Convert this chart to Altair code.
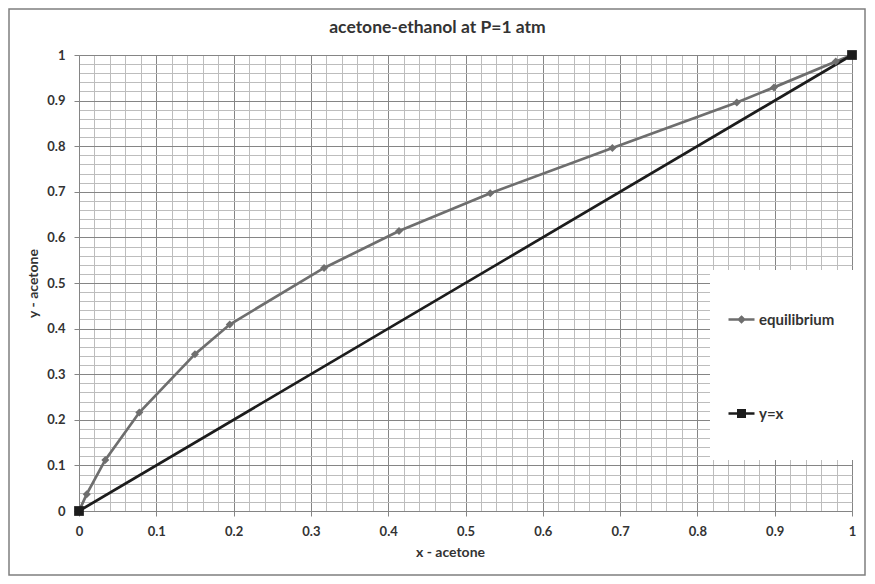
import altair as alt
import pandas as pd

TITLE = "acetone-ethanol at P=1 atm"
X_TITLE = "x - acetone"
Y_TITLE = "y - acetone"

series_names = ["equilibrium", "y=x"]
series_colors = ["#6e6e6e", "#1c1c1c"]

eq_x = [0.0, 0.010, 0.034, 0.078, 0.150, 0.195, 0.317, 0.414, 0.532, 0.690, 0.851, 0.899, 0.979, 1.0]
eq_y = [0.0, 0.037, 0.112, 0.216, 0.344, 0.409, 0.533, 0.614, 0.697, 0.796, 0.896, 0.929, 0.986, 1.0]

diag_x = [0.0, 1.0]
diag_y = [0.0, 1.0]

grid_values = [0.0, 0.02, 0.04, 0.06, 0.08, 0.1, 0.12, 0.14, 0.16, 0.18,
               0.2, 0.22, 0.24, 0.26, 0.28, 0.3, 0.32, 0.34, 0.36, 0.38,
               0.4, 0.42, 0.44, 0.46, 0.48, 0.5, 0.52, 0.54, 0.56, 0.58,
               0.6, 0.62, 0.64, 0.66, 0.68, 0.7, 0.72, 0.74, 0.76, 0.78,
               0.8, 0.82, 0.84, 0.86, 0.88, 0.9, 0.92, 0.94, 0.96, 0.98, 1.0]

rows = []
for i, (a, b) in enumerate(zip(eq_x, eq_y)):
    rows.append({"x": a, "y": b, "series": series_names[0], "order": i})
for i, (a, b) in enumerate(zip(diag_x, diag_y)):
    rows.append({"x": a, "y": b, "series": series_names[1], "order": i})
df = pd.DataFrame(rows)

FONT = "Lato"
TEXT_COLOR = "#333333"
MAJOR = "abs(datum.value * 10 - round(datum.value * 10)) < 0.001"


def make_axis(title, **kw):
    return alt.Axis(
        values=grid_values,
        title=title,
        labelExpr=f"({MAJOR}) ? format(datum.value, '~g') : ''",
        labelOverlap=False,
        labelFlush=False,
        labelFont=FONT,
        labelFontSize=13,
        labelFontWeight="bold",
        labelColor=TEXT_COLOR,
        labelPadding=9,
        tickSize=5,
        tickWidth=1,
        tickColor={"condition": {"test": MAJOR, "value": "#858585"}, "value": "rgba(0,0,0,0)"},
        gridColor={"condition": {"test": MAJOR, "value": "#858585"}, "value": "#bdbdbd"},
        gridWidth=1,
        gridOpacity=1,
        domainColor="#858585",
        domainWidth=1,
        titleFont=FONT,
        titleFontSize=14,
        titleFontWeight="bold",
        titleColor=TEXT_COLOR,
        titleBaseline="middle",
        **kw,
    )


x_axis = make_axis(X_TITLE, titleX=371, titleY=41)
y_axis = make_axis(Y_TITLE, titleX=-46, titleY=228, titleAngle=270)

DIAMOND_LINE = "M-1,0H1M0,-0.2L0.2,0L0,0.2L-0.2,0Z"
SQUARE_LINE = "M-1,0H1M-0.25,-0.25H0.25V0.25H-0.25Z"

legend_common = dict(
    orient="none",
    legendX=648,
    title=None,
    padding=0,
    labelFont=FONT,
    labelFontSize=15,
    labelFontWeight="bold",
    labelColor=TEXT_COLOR,
    labelOffset=3,
    symbolSize=676,
    symbolStrokeWidth=2.5,
    symbolOpacity=1,
)

legend_eq = alt.Legend(values=[series_names[0]], legendY=250, symbolType=DIAMOND_LINE,
                       symbolFillColor=series_colors[0], **legend_common)
legend_diag = alt.Legend(values=[series_names[1]], legendY=344, symbolType=SQUARE_LINE,
                         symbolStrokeColor=series_colors[1], **legend_common)

xs = alt.Scale(domain=[0, 1], nice=False)
ys = alt.Scale(domain=[0, 1], nice=False)

base = alt.Chart(df).encode(
    x=alt.X("x:Q", scale=xs, axis=x_axis),
    y=alt.Y("y:Q", scale=ys, axis=y_axis),
)

lines = base.mark_line(strokeWidth=2.7).encode(
    stroke=alt.Stroke("series:N", scale=alt.Scale(domain=series_names, range=series_colors), legend=legend_eq),
    order="order:Q",
)
fill_enc = alt.Fill("series:N", scale=alt.Scale(domain=series_names[::-1], range=series_colors[::-1]),
                    legend=legend_diag)
points_eq = base.transform_filter(alt.datum.series == series_names[0]).mark_point(
    filled=True, opacity=1, shape="diamond", size=64
).encode(fill=fill_enc)
points_diag = base.transform_filter(alt.datum.series == series_names[1]).mark_point(
    filled=True, opacity=1, shape="square", size=95
).encode(fill=fill_enc)

one = alt.Data(values=[{"k": 1}])
legend_box = alt.Chart(one).mark_rect(fill="white").encode(
    x=alt.value(631), x2=alt.value(776), y=alt.value(215), y2=alt.value(405)
)
border = alt.Chart(one).mark_rect(fill=None, stroke="#7f7f7f", strokeWidth=1.5).encode(
    x=alt.value(-70), x2=alt.value(786), y=alt.value(-46), y2=alt.value(520)
)

chart = alt.layer(legend_box, lines, points_eq, points_diag, border).properties(
    width=773,
    height=456,
    autosize=alt.AutoSizeParams(type="none"),
    padding={"left": 71, "top": 47, "right": 15, "bottom": 65},
    title=alt.TitleParams(
        TITLE, font=FONT, fontSize=17.5, fontWeight="bold", color=TEXT_COLOR,
        anchor="middle", frame="group", dx=-28, dy=64, offset=22, baseline="alphabetic",
    ),
).configure_view(stroke=None).configure(background="white")

chart.save("out.html", embed_options={"renderer": "svg", "actions": False})
